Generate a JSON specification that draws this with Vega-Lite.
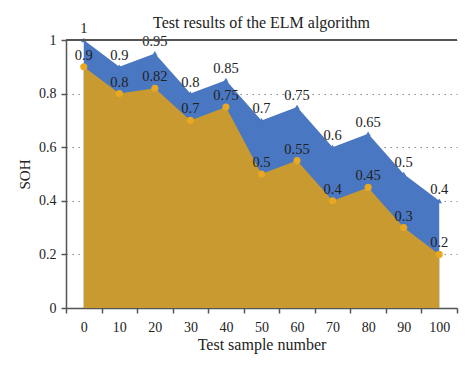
{
  "$schema": "https://vega.github.io/schema/vega-lite/v6.json",
  "width": 391,
  "height": 268,
  "autosize": {"type": "none"},
  "padding": {"left": 66, "top": 40, "right": 17, "bottom": 64},
  "background": "white",
  "config": {
    "view": {"stroke": null},
    "font": "Liberation Serif",
    "axis": {"labelFont": "Liberation Serif", "titleFont": "Liberation Serif"}
  },
  "title": {
    "text": "Test results of the ELM algorithm",
    "font": "Liberation Serif",
    "fontSize": 16,
    "fontWeight": "normal",
    "color": "#222",
    "anchor": "middle",
    "offset": -10
  },
  "data": {
    "values": [
      {"sample": 0, "series": "upper", "value": 1},
      {"sample": 10, "series": "upper", "value": 0.9},
      {"sample": 20, "series": "upper", "value": 0.95},
      {"sample": 30, "series": "upper", "value": 0.8},
      {"sample": 40, "series": "upper", "value": 0.85},
      {"sample": 50, "series": "upper", "value": 0.7},
      {"sample": 60, "series": "upper", "value": 0.75},
      {"sample": 70, "series": "upper", "value": 0.6},
      {"sample": 80, "series": "upper", "value": 0.65},
      {"sample": 90, "series": "upper", "value": 0.5},
      {"sample": 100, "series": "upper", "value": 0.4},
      {"sample": 0, "series": "lower", "value": 0.9},
      {"sample": 10, "series": "lower", "value": 0.8},
      {"sample": 20, "series": "lower", "value": 0.82},
      {"sample": 30, "series": "lower", "value": 0.7},
      {"sample": 40, "series": "lower", "value": 0.75},
      {"sample": 50, "series": "lower", "value": 0.5},
      {"sample": 60, "series": "lower", "value": 0.55},
      {"sample": 70, "series": "lower", "value": 0.4},
      {"sample": 80, "series": "lower", "value": 0.45},
      {"sample": 90, "series": "lower", "value": 0.3},
      {"sample": 100, "series": "lower", "value": 0.2}
    ]
  },
  "encoding": {
    "x": {
      "field": "sample",
      "type": "ordinal",
      "bandPosition": 0.5,
      "scale": {"type": "band", "paddingInner": 0, "paddingOuter": 0},
      "axis": {
        "title": "Test sample number",
        "labelAngle": 0,
        "labelFontSize": 14,
        "labelColor": "#222",
        "labelPadding": 7,
        "titleFontSize": 16,
        "titleFontWeight": "normal",
        "titleColor": "#222",
        "titlePadding": 2,
        "tickBand": "extent",
        "tickSize": 5,
        "tickColor": "#555",
        "tickWidth": 1.5,
        "domainColor": "#555",
        "domainWidth": 1.5,
        "grid": false
      }
    },
    "y": {
      "field": "value",
      "type": "quantitative",
      "scale": {"domain": [0, 1], "nice": false},
      "axis": {
        "title": "SOH",
        "values": [0, 0.2, 0.4, 0.6, 0.8, 1],
        "format": "~g",
        "labelFontSize": 14,
        "labelColor": "#222",
        "labelPadding": 5,
        "titleFontSize": 15,
        "titleFontWeight": "normal",
        "titleColor": "#222",
        "titlePadding": 6,
        "tickSize": 5,
        "tickColor": "#555",
        "tickWidth": 1.5,
        "domainColor": "#555",
        "domainWidth": 1.5,
        "grid": true,
        "gridColor": "#888",
        "gridDash": [1.5, 4.5],
        "gridWidth": 1.2
      }
    }
  },
  "layer": [
    {
      "transform": [{"filter": "datum.series === 'upper'"}],
      "mark": {"type": "area", "color": "#4a77c1", "opacity": 1},
      "encoding": {}
    },
    {
      "transform": [{"filter": "datum.series === 'lower'"}],
      "mark": {"type": "area", "color": "#c99a2f", "opacity": 1},
      "encoding": {}
    },
    {
      "transform": [{"filter": "datum.series === 'upper'"}],
      "mark": {"type": "point", "shape": "triangle-up", "filled": true, "color": "#4a77c1", "size": 30, "opacity": 1},
      "encoding": {}
    },
    {
      "transform": [{"filter": "datum.series === 'lower'"}],
      "mark": {"type": "point", "shape": "circle", "filled": true, "color": "#e8a821", "size": 50, "opacity": 1},
      "encoding": {}
    },
    {
      "mark": {"type": "text", "font": "Liberation Serif", "fontSize": 14.5, "color": "#222", "baseline": "alphabetic", "dy": -7},
      "encoding": {
        "text": {"field": "value", "type": "quantitative", "format": "~g"}
      }
    },
    {
      "mark": {"type": "rule", "color": "#555", "strokeWidth": 1.5},
      "encoding": {"y": {"datum": 1}, "x": null}
    }
  ]
}
